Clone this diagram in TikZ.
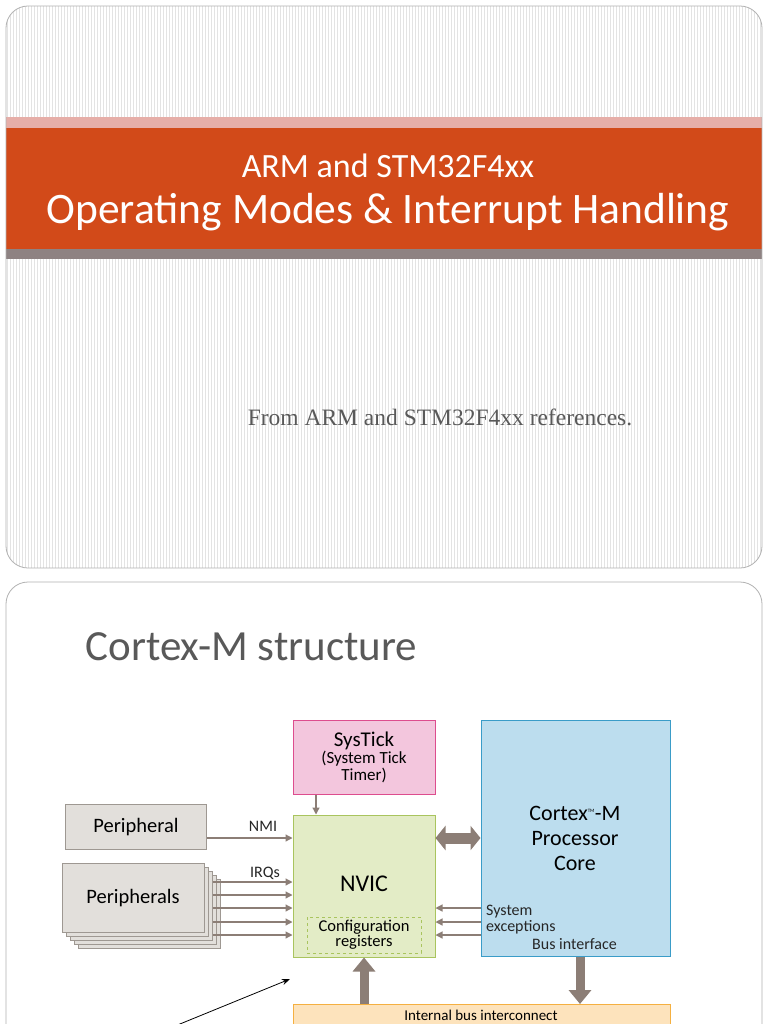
\documentclass[tikz,border=0pt]{standalone}
\usepackage{fontspec}
\setmainfont{Carlito}
\usetikzlibrary{arrows.meta}
\definecolor{band}{HTML}{D24A19}
\definecolor{pinkband}{HTML}{E6AEA8}
\definecolor{grayband}{HTML}{8E8282}
\definecolor{arr}{HTML}{8C7E76}
\definecolor{boxg}{HTML}{E2DFDB}
\definecolor{boxgd}{HTML}{9E9892}
\definecolor{corefill}{HTML}{BCDDEE}
\definecolor{coredraw}{HTML}{3A9CC8}
\definecolor{nvicfill}{HTML}{E3ECC6}
\definecolor{nvicdraw}{HTML}{A9C45E}
\definecolor{sysfill}{HTML}{F3C6DD}
\definecolor{sysdraw}{HTML}{DD4D8E}
\definecolor{busfill}{HTML}{FDE3BC}
\definecolor{busdraw}{HTML}{F5B041}
\begin{document}
\begin{tikzpicture}[x=1pt,y=-1pt,
  gbox/.style={draw=boxgd,fill=boxg,line width=1pt},
  thin arr/.style={draw=arr,line width=1.2pt,-{Triangle[length=7pt,width=7pt]}},
  fat arr/.style={draw=arr,line width=9pt,-{Triangle[length=14pt,width=22pt]}},
  lbl/.style={font=\fontsize{16}{16}\selectfont,text=black!85}]
\useasboundingbox (0,0) rectangle (768,1024);
\fill[white] (0,0) rectangle (768,1024);
% slide 1
\begin{scope}
\clip[rounded corners=22pt] (6,6) rectangle (762,568);
\fill[white] (6,6) rectangle (762,568);
\foreach \i in {0,...,252} {\draw[gray!22,line width=0.7pt] (7+3*\i,6) -- (7+3*\i,568);}
\fill[pinkband] (6,117) rectangle (762,128);
\fill[band] (6,128) rectangle (762,249);
\fill[grayband] (6,249) rectangle (762,259);
\end{scope}
\draw[gray!60,line width=0.8pt,rounded corners=22pt] (6,6) rectangle (762,568);
\node[text=white,font=\fontsize{34}{36}\selectfont] (t1) at (388,166) {ARM and STM32F4xx};
\node[text=white,font=\fontsize{43.5}{44}\selectfont] (t2) at (388,212) {Operating Modes \& Interrupt Handling};
\node[text=black!65,font=\fontspec{Liberation Serif}\fontsize{23.5}{25}\selectfont] (sub) at (440,417) {From ARM and STM32F4xx references.};
% slide 2
\draw[gray!60,line width=0.8pt,fill=white,rounded corners=22pt] (6,1040) -- (6,582) -- (762,582) -- (762,1040);
\node[anchor=west,text=black!65,font=\fontsize{43}{44}\selectfont] (t3) at (82,647) {Cortex-M structure};
% diagram
\node[draw=sysdraw,fill=sysfill,line width=1pt,minimum width=142pt,minimum height=74pt] (sys) at (364,757) {};
\node[font=\fontsize{21}{21}\selectfont,inner sep=0pt] (sysa) at (364,741) {SysTick};
\node[font=\fontsize{17}{17}\selectfont,inner sep=0pt] (sysb) at (364,759) {(System Tick};
\node[font=\fontsize{17}{17}\selectfont,inner sep=0pt] (sysc) at (364,775) {Timer)};
\node[draw=coredraw,fill=corefill,line width=1pt,minimum width=189pt,minimum height=236pt] (core) at (575.5,838) {};
\node[align=center,font=\fontsize{22}{25}\selectfont] (corel) at (575,838) {Cortex\textsuperscript{\tiny TM}-M\\Processor\\Core};
\node[draw=nvicdraw,fill=nvicfill,line width=1pt,minimum width=142pt,minimum height=142pt] (nvic) at (364,886) {};
\node[font=\fontsize{24}{24}\selectfont] (nvicl) at (364,884) {NVIC};
\node[draw=nvicdraw,dashed,line width=0.9pt,minimum width=114pt,minimum height=35pt,align=center,font=\fontsize{16.5}{15}\selectfont] (cfg) at (364,935) {Configuration\\registers};
\node[gbox,minimum width=141pt,minimum height=45pt,font=\fontsize{20.5}{20}\selectfont] (per) at (136,827) {Peripheral};
\foreach \k in {4,3,2,1} {\node[gbox,minimum width=142pt,minimum height=69pt] (pp\k) at (133+4*\k,898+4*\k) {};}
\node[gbox,minimum width=142pt,minimum height=69pt,font=\fontsize{20.5}{20}\selectfont] (pers) at (133,898) {Peripherals};
\node[draw=busdraw,fill=busfill,line width=1pt,minimum width=377pt,minimum height=40pt,anchor=north west] (bus) at (293,1004) {};
\node[anchor=north,font=\fontsize{15}{15}\selectfont,inner sep=1pt] (busl) at (481,1009) {Internal bus interconnect};
% arrows
\draw[thin arr] (sys.south -| 316,0) -- (nvic.north -| 316,0);
\draw[thin arr] (per.east |- 0,838) -- (nvic.west |- 0,838);
\foreach \y in {882,895,908,922,935} {\draw[thin arr] (pp2.east |- 0,\y) -- (nvic.west |- 0,\y);}
\foreach \y in {908,922,935} {\draw[thin arr] (core.west |- 0,\y) -- (nvic.east |- 0,\y);}
\node[lbl] (nmi) at (263,826) {NMI};
\node[lbl] (irq) at (265,873) {IRQs};
\node[lbl,anchor=north west,align=left,inner sep=0pt] (se) at (486,905) {System\\exceptions};
\node[lbl,anchor=north west,inner sep=0pt] (bi) at (532,938) {Bus interface};
\draw[draw=arr,line width=11pt,{Triangle[length=10pt,width=24pt]}-{Triangle[length=10pt,width=24pt]}] (nvic.east |- 0,838) -- (core.west |- 0,838);
\draw[fat arr] (bus.north -| 364,0) -- (nvic.south -| 364,0);
\draw[fat arr] (core.south -| 580,0) -- (bus.north -| 580,0);
\coordinate (ds) at (175,1026);
\coordinate (de) at (290,979);
\draw[-{Stealth[length=8pt]},line width=0.8pt] (ds) -- (de);
\end{tikzpicture}
\end{document}
